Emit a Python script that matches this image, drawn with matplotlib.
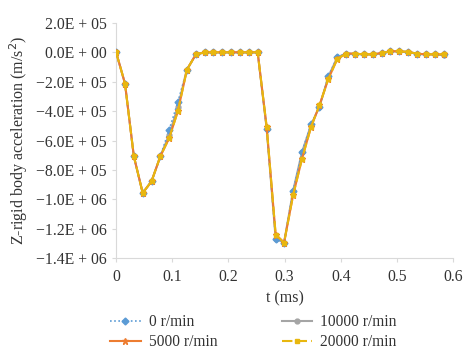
import matplotlib
matplotlib.use("Agg")
import matplotlib.pyplot as plt
from matplotlib.ticker import FuncFormatter

plt.rcParams['font.family'] = ['Liberation Serif', 'DejaVu Serif']

t = [0, 0.0158, 0.0315, 0.0473, 0.063, 0.0788, 0.0945, 0.110, 0.126, 0.142,
     0.158, 0.173, 0.189, 0.205, 0.221, 0.236, 0.252, 0.268, 0.284, 0.299,
     0.315, 0.331, 0.347, 0.362, 0.378, 0.394, 0.410, 0.425, 0.441, 0.457,
     0.473, 0.488, 0.504, 0.520, 0.536, 0.551, 0.567, 0.583]

rpm_0 = [0, -2.13e5, -7.07e5, -9.57e5, -8.78e5, -7.07e5, -5.26e5, -3.38e5, -1.18e5, -1.4e4,
         0, 0, 0, 0, 0, 0, 0, -5.2e5, -1.267e6, -1.295e6,
         -9.44e5, -6.78e5, -4.9e5, -3.7e5, -1.6e5, -3.0e4, -9e3, -9e3, -1.4e4, -1.4e4,
         -5e3, 7e3, 7e3, 2e3, -9e3, -1.4e4, -1.4e4, -1.4e4]
rpm_5000 = [0, -2.13e5, -7.07e5, -9.57e5, -8.78e5, -7.07e5, -5.83e5, -3.99e5, -1.18e5, -1.4e4,
            0, 0, 0, 0, 0, 0, 0, -5.08e5, -1.24e6, -1.295e6,
            -9.73e5, -7.23e5, -5.08e5, -3.6e5, -1.79e5, -4.3e4, -9e3, -9e3, -1.4e4, -1.4e4,
            -5e3, 7e3, 7e3, 2e3, -9e3, -1.4e4, -1.4e4, -1.4e4]
rpm_10000 = [0, -2.13e5, -7.07e5, -9.57e5, -8.78e5, -7.07e5, -5.6e5, -3.7e5, -1.18e5, -1.4e4,
             0, 0, 0, 0, 0, 0, 0, -5.2e5, -1.267e6, -1.295e6,
             -9.44e5, -6.78e5, -4.95e5, -3.7e5, -1.65e5, -3.2e4, -9e3, -9e3, -1.4e4, -1.4e4,
             -5e3, 7e3, 7e3, 2e3, -9e3, -1.4e4, -1.4e4, -2.0e4]
rpm_20000 = [0, -2.13e5, -7.07e5, -9.57e5, -8.78e5, -7.07e5, -5.83e5, -3.99e5, -1.18e5, -1.4e4,
             0, 0, 0, 0, 0, 0, 0, -5.08e5, -1.24e6, -1.295e6,
             -9.73e5, -7.23e5, -5.08e5, -3.6e5, -1.79e5, -4.3e4, -9e3, -9e3, -1.4e4, -1.4e4,
             -5e3, 7e3, 7e3, 2e3, -9e3, -1.4e4, -1.4e4, -1.4e4]

labels = ['0 r/min', '5000 r/min', '10000 r/min', '20000 r/min']
xticks = [0, 0.1, 0.2, 0.3, 0.4, 0.5, 0.6]
yticks = [2e5, 0, -2e5, -4e5, -6e5, -8e5, -1e6, -1.2e6, -1.4e6]

fig = plt.figure(figsize=(4.74, 3.64), dpi=100)
ax = fig.add_axes([0.245, 0.291, 0.711, 0.646])

ax.plot(t, rpm_0, color='#5B9BD5', linestyle=(0, (1, 1.5)), lw=1.2, marker='D', ms=3.5, label=labels[0], zorder=3)
ax.plot(t, rpm_5000, color='#ED7D31', linestyle='-', lw=1.5, marker='*', ms=4.5, label=labels[1], zorder=4)
ax.plot(t, rpm_10000, color='#A5A5A5', linestyle='-', lw=1.5, marker='o', ms=3.5, label=labels[2], zorder=2)
ax.plot(t, rpm_20000, color='#E8B70F', linestyle=(0, (5, 2)), lw=1.5, marker='s', ms=3.5, label=labels[3], zorder=5)

def fmt(v, pos):
    if v == 0:
        return '0.0E + 00'
    s = '%.1E' % v
    mant, exp = s.split('E')
    e = int(exp)
    mant = mant.replace('-', '\u2212')
    return '%sE + %02d' % (mant, abs(e))

ax.set_xlim(0, 0.6)
ax.set_ylim(-1.4e6, 2e5)
ax.set_xticks(xticks)
ax.set_xticklabels(['0', '0.1', '0.2', '0.3', '0.4', '0.5', '0.6'])
ax.set_yticks(yticks)
ax.yaxis.set_major_formatter(FuncFormatter(fmt))
ax.tick_params(axis='both', labelsize=11.3, length=3, width=0.8, colors='#333333')
ax.tick_params(axis='both', color='#D9D9D9')
ax.tick_params(axis='x', pad=5)
ax.tick_params(axis='y', pad=4)
for s in ['top', 'right']:
    ax.spines[s].set_visible(False)
for s in ['left', 'bottom']:
    ax.spines[s].set_color('#D9D9D9')
    ax.spines[s].set_linewidth(0.8)

ax.set_xlabel('t (ms)', fontsize=11.5, color='#333333', labelpad=4)
ax.set_ylabel('Z-rigid body acceleration (m/s$^2$)', fontsize=11.5, color='#333333', labelpad=4)

fig.legend(loc='center', bbox_to_anchor=(0.535, 0.087), ncol=2, frameon=False,
           fontsize=11.2, handlelength=1.95, columnspacing=4.1, labelspacing=0.25,
           handletextpad=0.55, labelcolor='#333333')

fig.savefig('out.png', dpi=100)
